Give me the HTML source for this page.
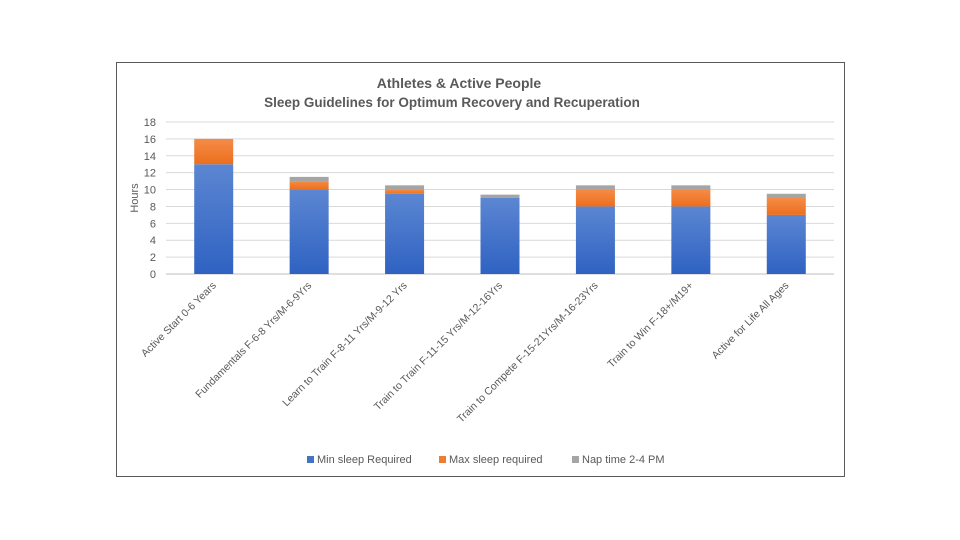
<!DOCTYPE html>
<html><head><meta charset="utf-8"><style>
body{margin:0;width:960px;height:540px;background:#fff;font-family:"Liberation Sans",Calibri,sans-serif;}
svg{position:absolute;left:0;top:0}
</style></head><body>
<svg width="960" height="540">
<defs>
<linearGradient id="gb" x1="0" y1="0" x2="0" y2="1"><stop offset="0" stop-color="#5b86d2"/><stop offset="1" stop-color="#2f62c2"/></linearGradient>
<linearGradient id="go" x1="0" y1="0" x2="0" y2="1"><stop offset="0" stop-color="#f58b48"/><stop offset="1" stop-color="#ec6f1c"/></linearGradient>
</defs>
<rect x="116.5" y="62.5" width="728" height="414" fill="#fff" stroke="#595959"/>
<text x="459" y="88" text-anchor="middle" font-size="14" font-weight="bold" fill="#595959">Athletes &amp; Active People</text>
<text x="452" y="107" text-anchor="middle" font-size="13.5" font-weight="bold" fill="#595959">Sleep Guidelines for Optimum Recovery and Recuperation</text>
<text transform="translate(138,198) rotate(-90)" text-anchor="middle" font-size="11" fill="#595959">Hours</text>
<g id="grid"></g><g id="bars"></g><g id="xl"></g>
<g font-size="11" fill="#595959">
<rect x="307" y="456" width="7" height="7" fill="#4472c4"/><text x="317" y="463">Min sleep Required</text>
<rect x="439" y="456" width="7" height="7" fill="#ed7d31"/><text x="449" y="463">Max sleep required</text>
<rect x="572" y="456" width="7" height="7" fill="#a5a5a5"/><text x="582" y="463">Nap time 2-4 PM</text>
</g>
</svg>
<script>
const categories=["Active Start 0-6 Years","Fundamentals  F-6-8 Yrs/M-6-9Yrs","Learn to Train F-8-11 Yrs/M-9-12 Yrs","Train to Train F-11-15 Yrs/M-12-16Yrs","Train to Compete F-15-21Yrs/M-16-23Yrs","Train to Win F-18+/M19+","Active for Life All Ages"];
const minSleep=[13,10,9.5,9,8,8,7];
const maxSleep=[3,1,0.5,0,2,2,2];
const napTime=[0,0.5,0.5,0.4,0.5,0.5,0.5];
const yTicks=[0,2,4,6,8,10,12,14,16,18];
const NS="http://www.w3.org/2000/svg";
const L=166,R=834,T=122,B=274,yMax=18;
const y=v=>B-(v/yMax)*(B-T);
const bw=(R-L)/categories.length;
const xc=i=>L+bw*(i+0.5);
function mk(t,a,p){const e=document.createElementNS(NS,t);for(const k in a)e.setAttribute(k,a[k]);p.appendChild(e);return e;}
const g=document.getElementById('grid');
yTicks.forEach(t=>{
 const ln=mk('line',{x1:L,x2:R,y1:y(t),y2:y(t),stroke:t===0?'#bfbfbf':'#d9d9d9','stroke-width':1},g);
 
 
 const tx=mk('text',{x:L-10,y:y(t)+4,'text-anchor':'end','font-size':11,fill:'#595959'},g);
 tx.textContent=t;
 
 
});
const bg=document.getElementById('bars'),xl=document.getElementById('xl');
categories.forEach((c,i)=>{
 const w=39,x=xc(i)-w/2;
 let base=0;
 [[minSleep,'url(#gb)','min'],[maxSleep,'url(#go)','max'],[napTime,'#a5a5a5','nap']].forEach(([arr,f,n])=>{
  const v=arr[i];
  if(v>0){const r=mk('rect',{x:x,y:y(base+v),width:w,height:y(base)-y(base+v),fill:f},bg);
   
   }
  base+=v;
 });
 const t=mk('text',{transform:`translate(${xc(i)+3},${B+12}) rotate(-45)`,'text-anchor':'end','font-size':10.5,fill:'#595959'},xl);
 t.textContent=c;
 
 
});
</script>
</body></html>
